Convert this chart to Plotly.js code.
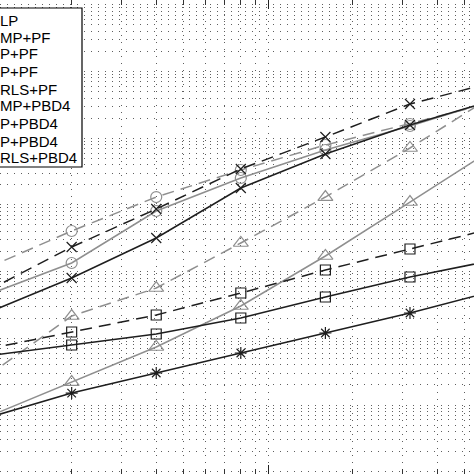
<!DOCTYPE html>
<html>
<head>
<meta charset="utf-8">
<script src="https://cdn.plot.ly/plotly-3.0.1.min.js"></script>
<style>html,body{margin:0;padding:0;background:#fff;}#chart{width:474px;height:474px;}</style>
</head>
<body>
<div id="chart"></div>
<script>
// x positions (doubling)
const xVals = [1, 2, 4, 8, 16, 32, 64];

// series values (log-log plot)
const serAsterisk   = [64, 151, 302, 602, 1201, 2395, 5120];            // black solid *
const serSqSolid    = [543, 794, 1160, 2015, 4160, 8300, 14930];        // black solid square
const serSqDash     = [691, 1243, 2235, 4777, 10570, 21830, 45070];     // black dashed square
const serTriSolid   = [66, 221, 741, 3048, 17140, 110500, 712900];      // gray solid triangle
const serTriDash    = [272, 2158, 5675, 26850, 131200, 712900, 4446000];// gray dashed triangle
const serXSolid     = [2395, 8017, 31900, 179100, 579500, 1578000, 3741000]; // black solid x
const serXDash      = [5120, 23380, 86800, 345300, 1042000, 3258000, 6966000]; // black dashed x
const serCircSolid  = [4457, 13460, 81000, 253000, 665500, 1524000, 3741000]; // gray solid circle
const serCircDash   = [11320, 40630, 131200, 333600, 790700, 1633000, 3491000]; // gray dashed circle

// legend labels (as visible, left part cropped)
const legendLabels = ["LP", "MP+PF", "P+PF", "P+PF", "RLS+PF", "MP+PBD4", "P+PBD4", "P+PBD4", "RLS+PBD4"];

const BLACK = '#1e1e1e', GRAY = '#8f8f8f';
const DASH = '12px,7px';

function tr(y, color, dash, symbol, size, name) {
  return {
    x: xVals, y: y, type: 'scatter', mode: 'lines+markers', name: name,
    line: {color: color, width: 1.5, dash: dash},
    marker: {symbol: symbol, size: size, color: color, line: {color: color, width: 1.2}},
    showlegend: false, cliponaxis: true
  };
}

const data = [
  tr(serCircDash, GRAY, DASH, 'circle-open', 11, 'circle dashed'),
  tr(serTriDash, GRAY, DASH, 'triangle-up-open', 13, 'triangle dashed'),
  tr(serCircSolid, GRAY, 'solid', 'circle-open', 11, 'circle solid'),
  tr(serTriSolid, GRAY, 'solid', 'triangle-up-open', 13, 'triangle solid'),
  tr(serXDash, BLACK, DASH, 'x-thin-open', 10, 'x dashed'),
  tr(serSqDash, BLACK, DASH, 'square-open', 10, 'square dashed'),
  tr(serXSolid, BLACK, 'solid', 'x-thin-open', 10, 'x solid'),
  tr(serSqSolid, BLACK, 'solid', 'square-open', 10, 'square solid'),
  tr(serAsterisk, BLACK, 'solid', 'asterisk-open', 10, 'asterisk')
];

// grid tick positions
const xMajor = [1, 10, 100];
const xMinor = [];
[1, 10].forEach(d => { for (let k = 2; k <= 9; k++) xMinor.push(k * d); });
const yMajor = [], yMinor = [];
for (let e = 0; e <= 8; e++) {
  yMajor.push(Math.pow(10, e));
  for (let k = 2; k <= 9; k++) yMinor.push(k * Math.pow(10, e));
}
const GRIDC = '#5e5e5e', GRIDD = '1px,6px';

const annotations = legendLabels.map((t, i) => ({
  xref: 'paper', yref: 'paper', x: -0.004, xanchor: 'left',
  y: 1 - [20, 37, 54, 71, 89, 106, 123, 141, 158][i] / 474, yanchor: 'middle',
  text: t, showarrow: false,
  font: {family: 'Liberation Sans, Arial, sans-serif', size: 15, color: '#000'}
}));

const layout = {
  width: 474, height: 474,
  margin: {l: 0, r: 0, t: 0, b: 0, pad: 0, autoexpand: false},
  paper_bgcolor: '#fff', plot_bgcolor: '#fff',
  showlegend: false,
  xaxis: {
    type: 'log', range: [0.046, 1.733], showticklabels: false,
    tickmode: 'array', tickvals: xMajor, ticks: 'inside', ticklen: 9, tickcolor: '#222', tickwidth: 1,
    mirror: 'ticks', showline: false, zeroline: false,
    showgrid: true, gridcolor: GRIDC, griddash: GRIDD, gridwidth: 1,
    minor: {tickmode: 'array', tickvals: xMinor, ticks: 'inside', ticklen: 5, tickcolor: '#333',
            showgrid: true, gridcolor: GRIDC, griddash: GRIDD, gridwidth: 1}
  },
  yaxis: {
    type: 'log', range: [0.9655, 8.072], showticklabels: false,
    tickmode: 'array', tickvals: yMajor, ticks: '', showline: false, zeroline: false,
    showgrid: true, gridcolor: GRIDC, griddash: GRIDD, gridwidth: 1,
    minor: {tickmode: 'array', tickvals: yMinor, ticks: '',
            showgrid: true, gridcolor: GRIDC, griddash: GRIDD, gridwidth: 1}
  },
  shapes: [{
    type: 'rect', xref: 'paper', yref: 'paper', layer: 'above',
    x0: -0.02, x1: 82 / 474, y0: 1 - 167 / 474, y1: 1 - 8 / 474,
    fillcolor: '#fff', line: {color: '#000', width: 1.2}
  }],
  annotations: annotations
};

Plotly.newPlot('chart', data, layout, {staticPlot: true, displayModeBar: false});
</script>
</body>
</html>
